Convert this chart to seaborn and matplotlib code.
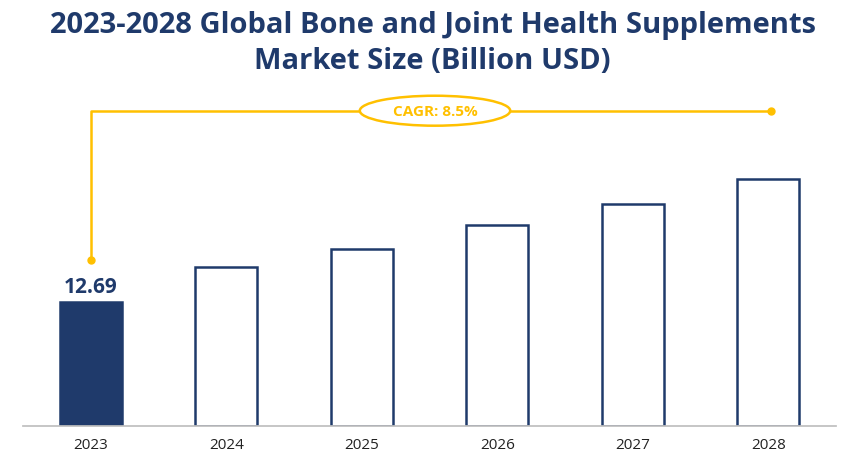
import matplotlib
matplotlib.use("Agg")
import matplotlib.pyplot as plt
import seaborn as sns
import pandas as pd
from matplotlib.patches import Ellipse

years = ["2023", "2024", "2025", "2026", "2027", "2028"]
values = [12.69, 16.27, 18.11, 20.57, 22.72, 25.28]
cagr_label = "CAGR: 8.5%"

navy = "#1F3A6B"
gold = "#FFC000"

sns.set_theme(style="white")
plt.rcParams['font.family'] = ['Open Sans', 'DejaVu Sans']

fig = plt.figure(figsize=(8.65, 4.6), dpi=100)
ax = fig.add_axes([23/865, 33/460, 813/865, 327/460])
df = pd.DataFrame({"year": years, "value": values})
sns.barplot(data=df, x="year", y="value", ax=ax, width=0.46,
            color="white", edgecolor=navy, linewidth=1.8, saturation=1)
for i, p in enumerate(ax.patches):
    if i == 0:
        p.set_facecolor(navy)
ax.set_xlim(-0.5, 5.5)
ax.set_ylim(0, 33.5)
ax.set_xlabel(""); ax.set_ylabel("")
ax.set_yticks([])
for s in ["top", "left", "right"]:
    ax.spines[s].set_visible(False)
ax.spines["bottom"].set_color("#BFBFBF")
ax.tick_params(axis="x", length=0, labelsize=11, colors="#222222", pad=8)

ax.text(0, values[0] + 0.5, f"{values[0]:.2f}", ha="center", va="bottom",
        fontsize=15, fontweight="bold", color=navy)

y_lo, y_hi = 17.0, 32.3
x_end = (770 - 89.75) / 135.5
ax.plot([0, 0, x_end], [y_lo, y_hi, y_hi], color=gold, lw=1.8, clip_on=False)
ax.plot([0, x_end], [y_lo, y_hi], "o", color=gold, ms=5, clip_on=False)
ex = (434 - 89.75) / 135.5
ax.add_patch(Ellipse((ex, y_hi), 1.11, 3.07, facecolor="white", edgecolor=gold,
                     lw=1.8, clip_on=False, zorder=5))
ax.text(ex, y_hi, cagr_label, ha="center", va="center", fontsize=11,
        fontweight="bold", color=gold, zorder=6)

fig.text(0.5, 0.975, "2023-2028 Global Bone and Joint Health Supplements\nMarket Size (Billion USD)",
         ha="center", va="top", fontsize=21, fontweight="bold", color=navy, linespacing=1.3)
fig.savefig("out.png", dpi=100)
